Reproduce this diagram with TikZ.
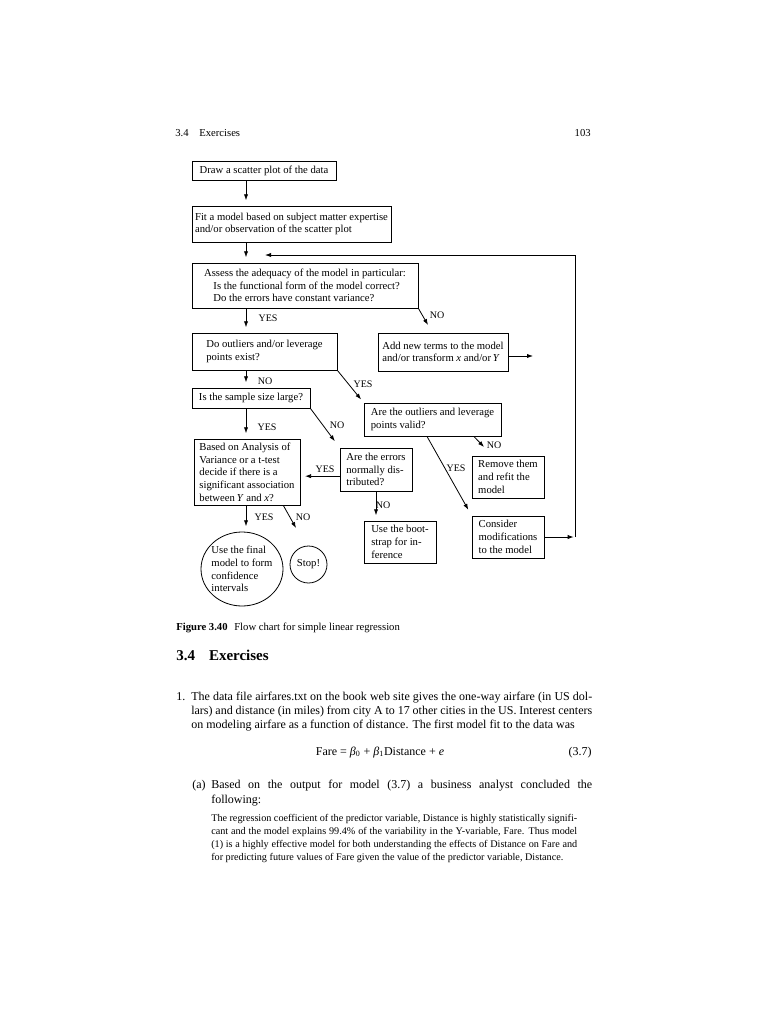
\documentclass[tikz,border=0pt]{standalone}
\usepackage{fontspec}
\setmainfont{Liberation Serif}
\usetikzlibrary{arrows.meta,calc,shapes.geometric}

\begin{document}
\begin{tikzpicture}[
  x=0.75pt, y=-0.75pt,
  every node/.style={inner sep=0pt},
  fbox/.style={draw, line width=0.6pt, align=left, font=\fontsize{8}{9.5}\selectfont},
  endbox/.style={draw, line width=0.6pt, align=left, font=\fontsize{8}{9.5}\selectfont},
  lbl/.style={font=\fontsize{7.5}{9}\selectfont},
  arr/.style={-{Latex[length=4.5pt,width=3.2pt]}, line width=0.6pt, shorten >=4pt},
  para/.style={anchor=north west, align=justify},
]
  \useasboundingbox (0,0) rectangle (768,1024);

  % Running head
  \node[anchor=base west, font=\fontsize{8}{9.6}\selectfont] (runhead) at (175,137) {3.4\hspace{8pt}Exercises};
  \node[anchor=base east, font=\fontsize{8}{9.6}\selectfont] (pageno) at (591,137) {103};

  % Flow chart boxes
  \node[fbox, minimum width=108pt, minimum height=14.25pt] (scatter) at (264,170.5)
    {Draw a scatter plot of the data};
  \node[fbox, minimum width=149.25pt, minimum height=27pt] (fit) at (291.5,224)
    {Fit a model based on subject matter expertise\\and/or observation of the scatter plot};
  \node[fbox, minimum width=169.5pt, minimum height=33.75pt] (assess) at (305,285.5)
    {Assess the adequacy of the model in particular:\\
     \hspace*{7pt}Is the functional form of the model correct?\\
     \hspace*{7pt}Do the errors have constant variance?};
  \node[fbox, minimum width=108.75pt, minimum height=27.75pt] (outl) at (264.5,351.5)
    {Do outliers and/or leverage\\points exist?};
  \node[fbox, minimum width=97.5pt, minimum height=28.5pt] (addterms) at (443,352)
    {Add new terms to the model\\and/or transform \textit{x} and/or\,\textit{Y}};
  \node[fbox, minimum width=88.5pt, minimum height=15pt] (sample) at (251,398)
    {Is the sample size large?};
  \node[fbox, minimum width=102.75pt, minimum height=24.75pt] (valid) at (432.5,419.5)
    {Are the outliers and leverage\\points valid?};
  \node[fbox, minimum width=54pt, minimum height=31.5pt] (remove) at (508,477)
    {Remove them\\and refit the\\model};
  \node[fbox, minimum width=54pt, minimum height=31.5pt] (consider) at (508,537)
    {Consider\\modifications\\to the model};
  \node[fbox, minimum width=54pt, minimum height=32.25pt] (normal) at (376,469.5)
    {Are the errors\\normally dis-\\tributed?};
  \node[fbox, minimum width=79.5pt, minimum height=49.5pt] (anova) at (247,472)
    {Based on Analysis of\\Variance or a t-test\\decide if there is a\\significant association\\between\,\textit{Y} and \textit{x}?};
  \node[fbox, minimum width=54pt, minimum height=31.5pt] (boot) at (400,542)
    {Use the boot-\\strap for in-\\ference};

  % End points
  \node[endbox, ellipse, inner xsep=-6pt, inner ysep=0pt, minimum width=61.5pt, minimum height=55.5pt] (final) at (242,569)
    {Use the final\\model to form\\confidence\\intervals};
  \node[endbox, circle, minimum size=27.75pt] (stop) at (308.5,564.5) {Stop!};

  % Main column
  \coordinate (colx) at (246,0);
  \draw[arr] (scatter.south -| colx) -- (fit.north -| colx);
  \draw[arr] (fit.south -| colx) -- (assess.north -| colx);
  \draw[arr] (assess.south -| colx) -- (outl.north -| colx);
  \draw[arr] (outl.south -| colx) -- (sample.north -| colx);
  \draw[arr] (sample.south -| colx) -- (anova.north -| colx);
  \draw[arr] (anova.south -| colx) -- (final.north -| colx);

  % Side branches
  \coordinate (noAend) at (428,325);
  \draw[arr, shorten >=0pt] (assess.south east) -- (noAend);
  \draw[arr, shorten >=3pt] (outl.south east) -- (valid.north west);
  \draw[arr, shorten >=6pt] (sample.south east) -- (normal.north west);
  \coordinate (noDend) at (484,447);
  \draw[arr, shorten >=0pt] ($(valid.south west)!0.8!(valid.south east)$) -- (noDend);
  \draw[arr, shorten >=5pt] ($(valid.south west)!0.46!(valid.south east)$) -- (consider.north west);
  \draw[arr, shorten >=3.5pt] ([yshift=-5pt]normal.west) -- ([yshift=-5pt]normal.west -| anova.east);
  \draw[arr] (normal.south) -- (normal.south |- boot.north);
  \coordinate (noFend) at (296,528);
  \draw[arr, shorten >=0pt] ($(anova.south west)!0.84!(anova.south east)$) -- (noFend);

  % Loop back
  \coordinate (addout) at (533,356);
  \coordinate (loopB) at (575,537);
  \coordinate (loopT) at (575,255);
  \coordinate (loopE) at (265,255);
  \draw[arr, shorten >=0pt] (addterms.east |- addout) -- (addout);
  \draw[arr, shorten >=1pt] (consider.east) -- (loopB);
  \draw[arr, shorten >=0pt] (loopB) -- (loopT) -- (loopE);

  % YES / NO labels
  \node[lbl] (yesA) at (268,318) {YES};
  \node[lbl] (noA) at (437,315) {NO};
  \node[lbl] (noB) at (265,381) {NO};
  \node[lbl] (yesB) at (363,384) {YES};
  \node[lbl] (yesC) at (267,427) {YES};
  \node[lbl] (noC) at (337,425) {NO};
  \node[lbl] (noD) at (494,445) {NO};
  \node[lbl] (yesD) at (456,468) {YES};
  \node[lbl] (yesE) at (325,469) {YES};
  \node[lbl] (noE) at (383,505) {NO};
  \node[lbl] (yesF) at (264,517) {YES};
  \node[lbl] (noF) at (303,517) {NO};

  % Caption and section
  \node[anchor=base west, font=\fontsize{8}{9.6}\selectfont] (caption) at (176,630)
    {\textbf{Figure 3.40}\hspace{5pt}Flow chart for simple linear regression};
  \node[anchor=base west, font=\fontsize{11.25}{13.5}\selectfont\bfseries] (sechead) at (176,660)
    {3.4\hspace{10.5pt}Exercises};

  % Exercise 1
  \node[anchor=base west, font=\fontsize{9}{10.5}\selectfont] (num1) at (176,700) {1.};
  \node[para, text width=300.75pt, font=\fontsize{9}{10.5}\selectfont] (ex1) at (191,691.6)
    {The data file airfares.txt on the book web site gives the one-way airfare (in US dol-\linebreak
     lars) and distance (in miles) from city A to 17 other cities in the US. Interest centers\linebreak
     on modeling airfare as a function of distance. The first model fit to the data was};
  \node[anchor=base, font=\fontsize{9}{10.5}\selectfont] (eq) at (380,755)
    {Fare = \textit{β}\textsubscript{0} + \textit{β}\textsubscript{1}Distance + \textit{e}};
  \node[anchor=base east, font=\fontsize{9}{10.5}\selectfont] (eqnum) at (592,755) {(3.7)};

  % Part (a)
  \node[anchor=base west, font=\fontsize{9}{10.5}\selectfont] (numa) at (192,788) {(a)};
  \node[para, text width=285.75pt, font=\fontsize{9}{11.25}\selectfont] (exa) at (211,779.6)
    {Based on the output for model (3.7) a business analyst concluded the\linebreak following:};
  \node[para, text width=274.5pt, font=\fontsize{7.65}{9.75}\selectfont] (quote) at (211,814)
    {The regression coefficient of the predictor variable, Distance is highly statistically signifi-\linebreak
     cant and the model explains 99.4\% of the variability in the Y-variable, Fare. Thus model\linebreak
     (1) is a highly effective model for both understanding the effects of Distance on Fare and\linebreak
     for predicting future values of Fare given the value of the predictor variable, Distance.};
\end{tikzpicture}
\end{document}
